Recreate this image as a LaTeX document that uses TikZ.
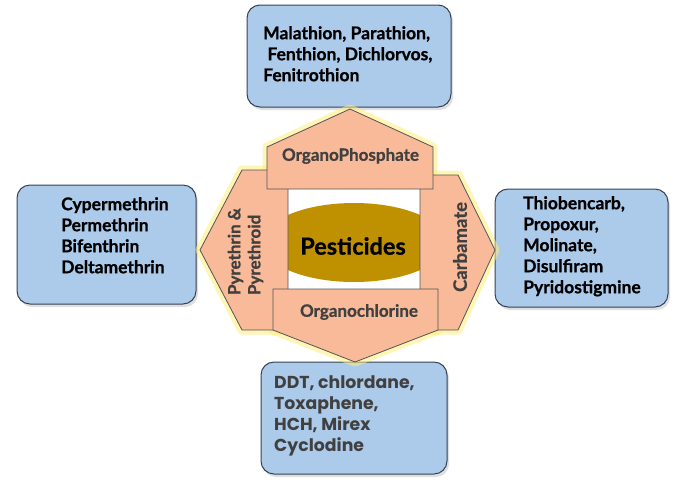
\documentclass[tikz,border=0pt]{standalone}
\usepackage{fontspec}
\setmainfont{Lato}[BoldFeatures={FakeBold=0.8}]
\newfontfamily\popp{Poppins}
\usetikzlibrary{shadows}
\definecolor{boxblue}{RGB}{172,202,234}
\definecolor{boxline}{RGB}{55,65,85}
\definecolor{peach}{RGB}{248,186,152}
\definecolor{peachline}{RGB}{85,85,85}
\definecolor{gold}{RGB}{191,144,0}
\definecolor{glowc}{RGB}{255,236,120}
\definecolor{labgray}{RGB}{64,64,64}
\tikzset{
  bluebox/.style={draw=boxline, line width=1pt, fill=boxblue, rounded corners=13pt,
    drop shadow={shadow xshift=2pt, shadow yshift=-3pt, opacity=0.25}},
  boxtext/.style={anchor=north west, align=left, inner sep=0pt, font=\fontsize{17.5}{21}\selectfont\bfseries},
  poptext/.style={anchor=north west, align=left, inner sep=0pt, text=labgray, font=\popp\fontsize{17.3}{21}\selectfont\bfseries},
  peachshape/.style={draw=peachline, line width=0.8pt, fill=peach, line join=miter},
  glow/.style={draw=glowc, line width=9pt, line join=round, opacity=0.55},
  lab/.style={inner sep=0pt, text=labgray, font=\fontsize{17}{20}\selectfont\bfseries}
}
\begin{document}
\begin{tikzpicture}[x=1pt,y=-1pt]
\useasboundingbox (0,0) rectangle (685,491);
% outer boxes
\node[bluebox, minimum width=204pt, minimum height=102pt] (opbox) at (349,56) {};
\node[bluebox, minimum width=179pt, minimum height=119pt] (pyrbox) at (106.5,244.5) {};
\node[bluebox, minimum width=173pt, minimum height=118pt] (carbbox) at (581.5,248) {};
\node[bluebox, minimum width=186pt, minimum height=112pt] (ocbox) at (354,418) {};
\node[boxtext] (optext) at (263,26) {Malathion, Parathion,\\\ Fenthion, Dichlorvos,\\Fenitrothion};
\node[boxtext] (pyrtext) at (61,197) {Cypermethrin\\Permethrin\\Bifenthrin\\Deltamethrin};
\node[boxtext] (carbtext) at (523,196) {Thiobencarb,\\Propoxur,\\Molinate,\\Disulfiram\\Pyridostigmine};
\node[poptext] (octext) at (274,375) {DDT, chlordane,\\Toxaphene,\\HCH, Mirex\\Cyclodine};
% glow
\draw[glow] (288,170)--(242,170)--(200,250)--(242,330)--(288,330)--cycle;
\draw[glow] (420,175)--(458,175)--(495,250)--(458,330)--(420,330)--cycle;
\draw[glow] (267,189)--(267,147)--(350,109)--(433,147)--(433,189)--cycle;
\draw[glow] (273,289)--(438,289)--(438,330)--(355,362)--(273,330)--cycle;
% center
\fill[white] (288,189) rectangle (420,289);
\begin{scope}
\clip (288,189) rectangle (420,289);
\fill[gold] (354,242.5) ellipse [x radius=92, y radius=39.5];
\end{scope}
% shapes
\draw[peachshape] (288,170)--(242,170)--(200,250)--(242,330)--(288,330)--cycle;
\draw[peachshape] (420,175)--(458,175)--(495,250)--(458,330)--(420,330)--cycle;
\draw[peachshape] (267,189)--(267,147)--(350,109)--(433,147)--(433,189)--cycle;
\draw[peachshape] (273,289)--(438,289)--(438,330)--(355,362)--(273,330)--cycle;
% labels
\node[lab] (oplab) at (350.5,156) {OrganoPhosphate};
\node[lab] (oclab) at (359,312) {Organochlorine};
\node[lab, rotate=90, align=left] (pyrlab) at (245.5,251.5) {Pyrethrin \&\\Pyrethroid};
\node[lab, rotate=90, font=\fontsize{18.5}{20}\selectfont\bfseries] (carblab) at (460,247) {Carbamate};
\node[inner sep=0pt, font=\fontsize{23.5}{26}\selectfont\bfseries] (pest) at (353,246) {Pesticides};
\end{tikzpicture}
\end{document}
